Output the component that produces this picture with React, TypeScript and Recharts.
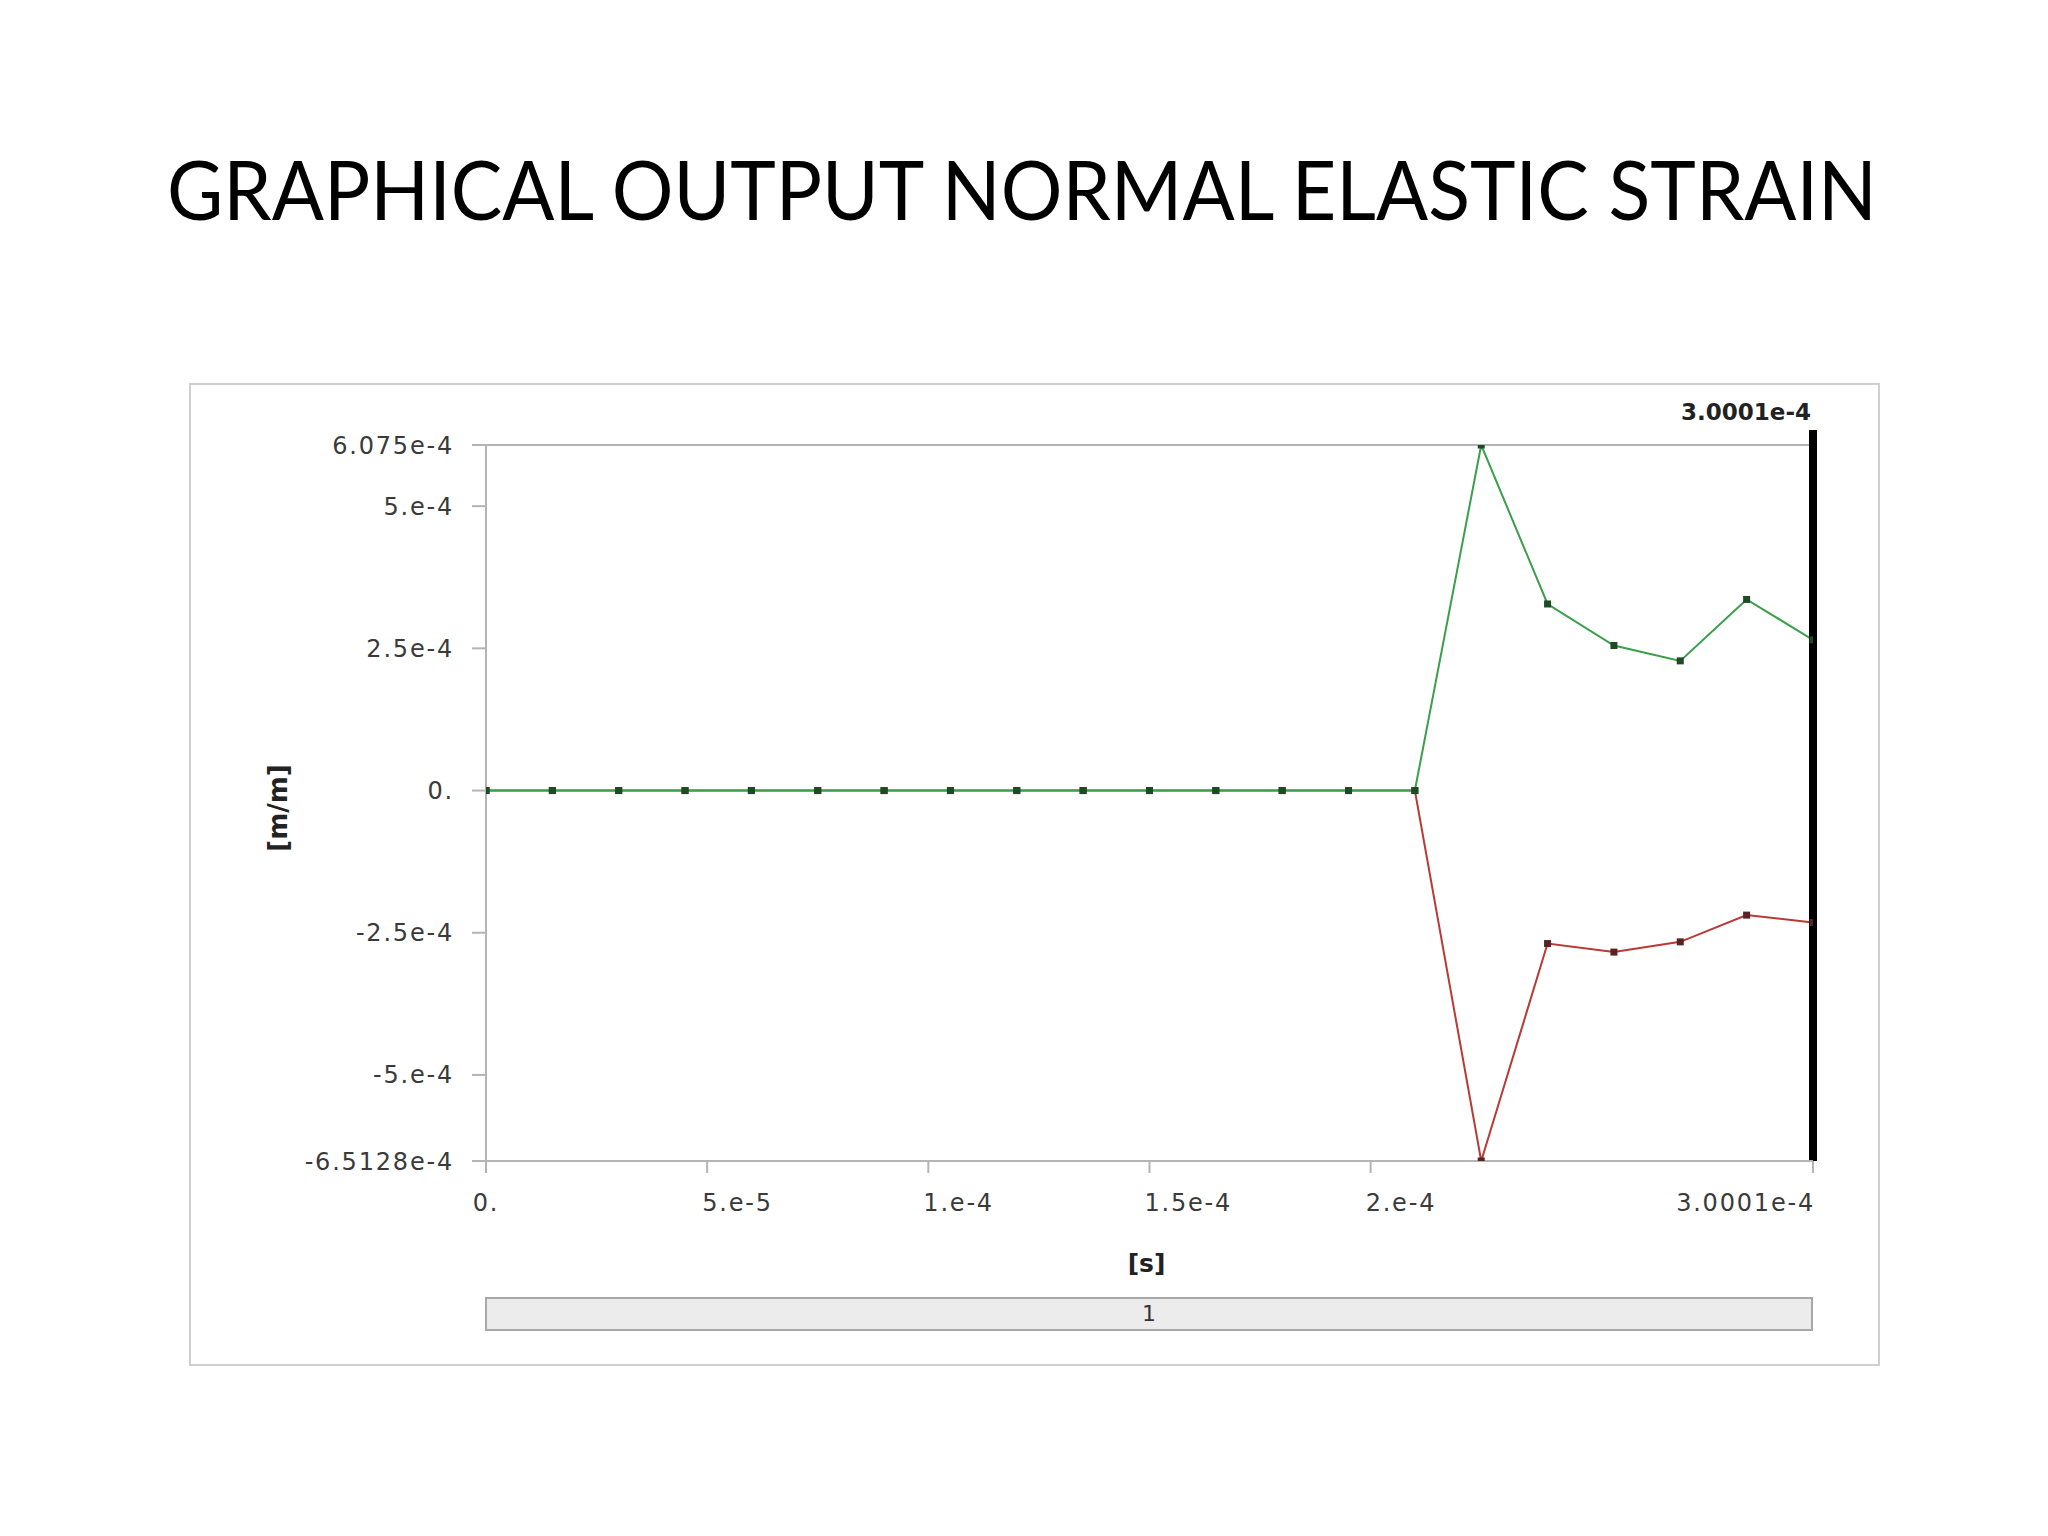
import React from "react";
import {
  LineChart,
  Line,
  XAxis,
  YAxis,
  ReferenceLine,
} from "recharts";

// time points [s]
const timeValues = [
  0, 1.5e-5, 3.0e-5, 4.5e-5, 6.0e-5, 7.5e-5, 9.0e-5, 1.05e-4, 1.2e-4, 1.35e-4,
  1.5e-4, 1.65e-4, 1.8e-4, 1.95e-4, 2.1e-4, 2.25e-4, 2.4e-4, 2.55e-4, 2.7e-4,
  2.85e-4, 3.0001e-4,
];
// maximum normal elastic strain [m/m]
const maxStrain = [
  0, 0, 0, 0, 0, 0, 0, 0, 0, 0, 0, 0, 0, 0, 0, 6.075e-4, 3.28e-4, 2.55e-4,
  2.28e-4, 3.36e-4, 2.65e-4,
];
// minimum normal elastic strain [m/m]
const minStrain = [
  0, 0, 0, 0, 0, 0, 0, 0, 0, 0, 0, 0, 0, 0, 0, -6.5128e-4, -2.69e-4, -2.84e-4,
  -2.66e-4, -2.19e-4, -2.32e-4,
];

const xTicks = [0, 5e-5, 1e-4, 1.5e-4, 2e-4, 3.0001e-4];
const xTickLabels = ["0.", "5.e-5", "1.e-4", "1.5e-4", "2.e-4", "3.0001e-4"];
const yTicks = [-6.5128e-4, -5e-4, -2.5e-4, 0, 2.5e-4, 5e-4, 6.075e-4];
const yTickLabels = ["-6.5128e-4", "-5.e-4", "-2.5e-4", "0.", "2.5e-4", "5.e-4", "6.075e-4"];
const cursorTime = 3.0001e-4;
const cursorLabel = "3.0001e-4";
const stepLabel = "1";

const data = timeValues.map((t, i) => ({ t, max: maxStrain[i], min: minStrain[i] }));

const tickFont = "'DejaVu Sans', Verdana, sans-serif";
const axisGrey = "#b4b4b4";

const labelFor = (ticks: number[], labels: string[], v: number) => {
  const i = ticks.findIndex((k) => Math.abs(k - v) < 1e-12);
  return i >= 0 ? labels[i] : "";
};

function XTick(props: any) {
  const { x, y, payload } = props;
  const i = xTicks.findIndex((k) => Math.abs(k - payload.value) < 1e-12);
  let anchor = "start";
  let dx = -5;
  if (i === 0) {
    anchor = "middle";
    dx = 0;
  } else if (i === xTicks.length - 1) {
    anchor = "end";
    dx = 2;
  }
  return (
    <text
      x={x + dx}
      y={y}
      dy="0.71em"
      textAnchor={anchor}
      fill="#3a3a3a"
      fontSize={24}
      letterSpacing={1.8}
      fontFamily={tickFont}
    >
      {labelFor(xTicks, xTickLabels, payload.value)}
    </text>
  );
}

const squareDot = (fill: string) => (p: any) => {
  const { cx, cy, index } = p;
  if (cx == null || cy == null) return <g key={index} />;
  return <rect key={index} x={cx - 3.5} y={cy - 3.5} width={7} height={7} fill={fill} />;
};

export default function App() {
  return (
    <div
      style={{
        position: "absolute",
        left: 0,
        top: 0,
        width: 2048,
        height: 1536,
        background: "#ffffff",
        overflow: "hidden",
      }}
    >
      <svg width={2048} height={300} style={{ position: "absolute", left: 0, top: 0 }}>
        <text
          x={1022}
          y={220}
          textAnchor="middle"
          fontSize={81}
          fontFamily="Lato, 'Noto Sans', sans-serif"
          fill="#000"
          textLength={1710}
          lengthAdjust="spacingAndGlyphs"
        >
          GRAPHICAL OUTPUT NORMAL ELASTIC STRAIN
        </text>
      </svg>

      <div
        style={{
          position: "absolute",
          left: 189,
          top: 383,
          width: 1691,
          height: 983,
          boxSizing: "border-box",
          border: "2px solid #cfcfcf",
        }}
      />

      <div style={{ position: "absolute", left: 189, top: 383 }}>
        <LineChart
          width={1691}
          height={983}
          data={data}
          margin={{ top: 62, right: 67, left: 0, bottom: 145 }}
        >
          <XAxis
            dataKey="t"
            type="number"
            domain={[0, cursorTime]}
            ticks={xTicks}
            allowDataOverflow
            height={60}
            stroke={axisGrey}
            strokeWidth={2}
            tickSize={12}
            tickMargin={21}
            tickLine={{ stroke: axisGrey }}
            tick={<XTick />}
            label={{
              content: (p: any) => {
                const vb = p.viewBox;
                return (
                  <text
                    x={vb.x + vb.width / 2 - 3}
                    y={vb.y + 111}
                    textAnchor="middle"
                    fontSize={25}
                    fontWeight="bold"
                    fontFamily={tickFont}
                    fill="#222"
                  >
                    [s]
                  </text>
                );
              },
            }}
          />
          <YAxis
            type="number"
            domain={[yTicks[0], yTicks[yTicks.length - 1]]}
            ticks={yTicks}
            allowDataOverflow
            width={297}
            stroke={axisGrey}
            strokeWidth={2}
            tickSize={14}
            tickMargin={18}
            tickLine={{ stroke: axisGrey }}
            tick={{ fill: "#3a3a3a", fontSize: 24, letterSpacing: 1.8, fontFamily: tickFont }}
            tickFormatter={(v: number) => labelFor(yTicks, yTickLabels, v)}
            label={{
              content: (p: any) => {
                const vb = p.viewBox;
                const cx = 89;
                const cy = vb.y + vb.height / 2 + 5;
                return (
                  <text
                    x={cx}
                    y={cy}
                    transform={`rotate(-90, ${cx}, ${cy})`}
                    textAnchor="middle"
                    dominantBaseline="central"
                    fontSize={26}
                    fontWeight="bold"
                    fontFamily={tickFont}
                    fill="#222"
                  >
                    [m/m]
                  </text>
                );
              },
            }}
          />
          <ReferenceLine y={yTicks[yTicks.length - 1]} stroke={axisGrey} strokeWidth={2} />
          <Line
            dataKey="min"
            stroke="#b83a35"
            strokeWidth={2}
            dot={squareDot("#5a2222")}
            activeDot={false}
            isAnimationActive={false}
          />
          <Line
            dataKey="max"
            stroke="#3a9f4b"
            strokeWidth={2}
            dot={squareDot("#1f4a26")}
            activeDot={false}
            isAnimationActive={false}
          />
          <ReferenceLine
            x={cursorTime}
            stroke="#000"
            strokeWidth={8}
            shape={(p: any) => (
              <line x1={p.x1} x2={p.x2} y1={Math.min(p.y1, p.y2) - 15} y2={Math.max(p.y1, p.y2)} stroke="#000" strokeWidth={8} />
            )}
            label={{
              content: (p: any) => {
                const vb = p.viewBox;
                return (
                  <text
                    x={vb.x - 2}
                    y={vb.y - 25}
                    textAnchor="end"
                    fontSize={23}
                    fontWeight="bold"
                    fontFamily={tickFont}
                    fill="#222"
                  >
                    {cursorLabel}
                  </text>
                );
              },
            }}
          />
        </LineChart>
      </div>

      <div
        style={{
          position: "absolute",
          left: 485,
          top: 1297,
          width: 1328,
          height: 34,
          boxSizing: "border-box",
          border: "2px solid #a8a8a8",
          background: "#ececec",
          textAlign: "center",
          fontFamily: tickFont,
          fontSize: 22,
          lineHeight: "30px",
          color: "#333",
        }}
      >
        {stepLabel}
      </div>
    </div>
  );
}
